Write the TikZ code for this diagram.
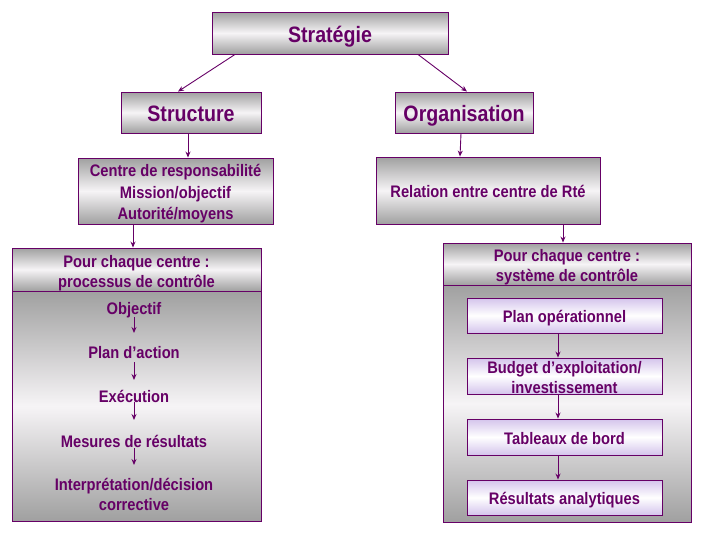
\documentclass[tikz,border=0pt]{standalone}
\usepackage{fontspec}
\setmainfont{Liberation Sans}
\newfontfamily\narrowf[FakeStretch=0.88]{Liberation Sans}
\usetikzlibrary{arrows.meta,calc}
\definecolor{pur}{HTML}{660066}
\definecolor{gdark}{HTML}{A0A0A0}
\definecolor{glight}{HTML}{F6F4F6}
\definecolor{lav}{HTML}{D4C4EC}
\tikzset{
  every node/.style={text=pur},
  bigf/.style={font=\narrowf\fontsize{22.3}{26}\selectfont\bfseries, text height=18.6pt, text depth=0pt},
  smallf/.style={font=\narrowf\fontsize{16.7}{20}\selectfont\bfseries},
  one/.style={text height=14pt, text depth=0pt},
  gbox/.style={draw=pur, line width=0.9pt, top color=gdark, bottom color=gdark, middle color=glight, inner sep=0pt, align=center},
  lbox/.style={draw=pur, line width=0.9pt, top color=lav, bottom color=lav, middle color=white, inner sep=0pt, align=center},
  txt/.style={smallf, inner sep=0pt, align=center, anchor=base},
  arr/.style={draw=pur, line width=0.9pt, -{Stealth[length=6pt,width=5pt]}},
}
\begin{document}
\begin{tikzpicture}[x=1pt,y=-1pt]
\useasboundingbox (0,0) rectangle (728,546);
% top boxes
\node[gbox,bigf,minimum width=236pt,minimum height=42pt] (strat) at (330,33) {Stratégie};
\node[gbox,bigf,minimum width=140pt,minimum height=41pt] (struct) at (191,112.5) {Structure};
\node[gbox,bigf,minimum width=138pt,minimum height=41pt] (orga) at (464,112.5) {Organisation};
\node[gbox,font=\narrowf\fontsize{16.7}{21.5}\selectfont\bfseries,text height=57pt,text depth=0pt,minimum width=195pt,minimum height=66pt] (centre) at (175.5,191) {Centre de responsabilité\\Mission/objectif\\Autorité/moyens};
\node[gbox,smallf,one,minimum width=224pt,minimum height=67pt] (rel) at (488,190.5) {Relation entre centre de Rté};
% left big box
\node[gbox,minimum width=249pt,minimum height=230pt] (lbody) at (136.5,406) {};
\node[gbox,smallf,minimum width=249pt,minimum height=43pt,text height=35pt,text depth=0pt] (lhead) at (136.5,269.5) {Pour chaque centre :\\processus de contrôle};
% right big box
\node[gbox,minimum width=248pt,minimum height=237pt] (rbody) at (567,403.5) {};
\node[gbox,smallf,minimum width=248pt,minimum height=42pt,text height=35pt,text depth=0pt] (rhead) at (567,264) {Pour chaque centre :\\système de contrôle};
% left items
\node[txt] (obj) at (134,314) {Objectif};
\node[txt] (plan) at (134,358) {Plan d’action};
\node[txt] (exe) at (134,402) {Exécution};
\node[txt] (mes) at (134,447) {Mesures de résultats};
\node[txt] (interp) at (134,510) {Interprétation/décision\\corrective};
% right items
\node[lbox,smallf,one,minimum width=195pt,minimum height=35pt] (plop) at (564.5,315.5) {Plan opérationnel};
\node[lbox,smallf,minimum width=195pt,minimum height=36pt,text height=34pt,text depth=0pt] (budg) at (564.5,376) {Budget d’exploitation/\\investissement};
\node[lbox,smallf,one,minimum width=195pt,minimum height=36pt] (tab) at (564.5,437) {Tableaux de bord};
\node[lbox,smallf,one,minimum width=195pt,minimum height=35pt] (res) at (564.5,497.5) {Résultats analytiques};
% connectors
\draw[arr] ([xshift=-95pt]strat.south) -- ([xshift=-13pt]struct.north);
\draw[arr] ([xshift=88pt]strat.south) -- ([xshift=3pt]orga.north);
\draw[arr] ([xshift=-3pt]struct.south) -- ([xshift=12.5pt]centre.north);
\draw[arr] ([xshift=-3pt]orga.south) -- ([xshift=-28pt]rel.north);
\draw[arr] ([xshift=-42.5pt]centre.south) -- ([xshift=-3.5pt]lhead.north);
\draw[arr] ([xshift=75pt]rel.south) -- ([xshift=-4pt]rhead.north);
\draw[arr] ([yshift=-3pt]obj.base) -- ([yshift=25pt]plan.base);
\draw[arr] ([yshift=-4pt]plan.base) -- ([yshift=22pt]exe.base);
\draw[arr] ([yshift=0pt]exe.base) -- ([yshift=27pt]mes.base);
\draw[arr] ([yshift=-1pt]mes.base) -- ([yshift=45pt]interp.base);
\draw[arr] ([xshift=-6.5pt]plop.south) -- ([xshift=-6.5pt]budg.north);
\draw[arr] ([xshift=-6.5pt]budg.south) -- ([xshift=-6.5pt]tab.north);
\draw[arr] ([xshift=-6.5pt]tab.south) -- ([xshift=-6.5pt]res.north);
\end{tikzpicture}
\end{document}
